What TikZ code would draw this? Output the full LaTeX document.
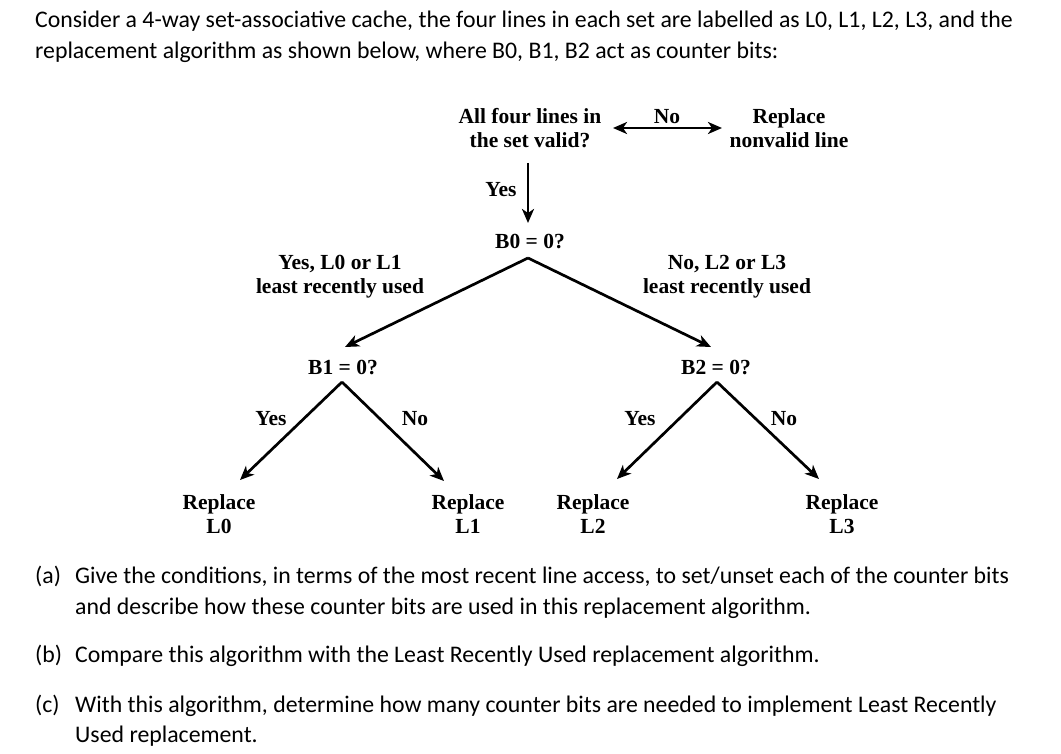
\documentclass[tikz,border=0pt]{standalone}
\usepackage{fontspec}
\setmainfont{Liberation Serif}
\newfontfamily\calfont{Carlito}
\usetikzlibrary{arrows.meta}
\begin{document}
\begin{tikzpicture}[x=1pt,y=-1pt,
  lbl/.style={font=\fontsize{21.5}{24}\selectfont\bfseries, inner sep=0pt, align=center, anchor=base},
  body/.style={font=\calfont\fontsize{23.8}{31}\selectfont, inner sep=0pt, anchor=base west},
  arr/.style={line width=2.7pt, -{Stealth[length=14pt,width=12pt,inset=4pt]}},
  darr/.style={line width=2.7pt, {Stealth[length=14pt,width=12pt,inset=4pt]}-{Stealth[length=14pt,width=12pt,inset=4pt]}}]
\path[use as bounding box, fill=white] (0,0) rectangle (1061,754);

% intro text
\node[body] (t1) at (35,28) {Consider a 4-way set-associative cache, the four lines in each set are labelled as L0, L1, L2, L3, and the};
\node[body] (t2) at (35,59) {replacement algorithm as shown below, where B0, B1, B2 act as counter bits:};

% diagram
\node[lbl] (q) at (530,148) {All four lines in\\the set valid?};
\node[lbl] (rn) at (789,148) {Replace\\nonvalid line};
\node[lbl] (no0) at (667,124) {No};
\coordinate (qa) at (613,128);
\coordinate (qb) at (722,128);
\draw[darr] (qa) -- (qb);

\coordinate (ya) at (528,163);
\coordinate (yb) at (528,223);
\draw[arr] (ya) -- (yb);
\node[lbl] (yes0) at (501,197) {Yes};

\node[lbl] (b0) at (530,249) {B0 = 0?};
\coordinate (b0apex) at (528,258);
\node[lbl] (lyes) at (340,294) {Yes, L0 or L1\\least recently used};
\node[lbl] (rno) at (727,294) {No, L2 or L3\\least recently used};
\coordinate (b1tip) at (345,347);
\coordinate (b2tip) at (711,347);
\draw[arr] (b0apex) -- (b1tip);
\draw[arr] (b0apex) -- (b2tip);

\node[lbl] (b1) at (343,374) {B1 = 0?};
\node[lbl] (b2) at (716,374) {B2 = 0?};
\coordinate (b1apex) at (342,382);
\coordinate (b2apex) at (717,382);
\coordinate (t0) at (240,480);
\coordinate (t1a) at (444,481);
\coordinate (t2) at (617,479);
\coordinate (t3) at (819,479);
\draw[arr] (b1apex) -- (t0);
\draw[arr] (b1apex) -- (t1a);
\draw[arr] (b2apex) -- (t2);
\draw[arr] (b2apex) -- (t3);

\node[lbl] (yes1) at (271,425) {Yes};
\node[lbl] (no1) at (415,425) {No};
\node[lbl] (yes2) at (640,425) {Yes};
\node[lbl] (no2) at (784,425) {No};

\node[lbl] (r0) at (219,533) {Replace\\L0};
\node[lbl] (r1) at (468,533) {Replace\\L1};
\node[lbl] (r2) at (593,533) {Replace\\L2};
\node[lbl] (r3) at (842,533) {Replace\\L3};

% questions
\node[body] (qa1) at (35,583) {(a)};
\node[body] (qa2) at (75,583) {Give the conditions, in terms of the most recent line access, to set/unset each of the counter bits};
\node[body] (qa3) at (75,614) {and describe how these counter bits are used in this replacement algorithm.};
\node[body] (qb1) at (35,662) {(b)};
\node[body] (qb2) at (75,662) {Compare this algorithm with the Least Recently Used replacement algorithm.};
\node[body] (qc1) at (35,712) {(c)};
\node[body] (qc2) at (75,712) {With this algorithm, determine how many counter bits are needed to implement Least Recently};
\node[body] (qc3) at (75,742) {Used replacement.};
\end{tikzpicture}
\end{document}
